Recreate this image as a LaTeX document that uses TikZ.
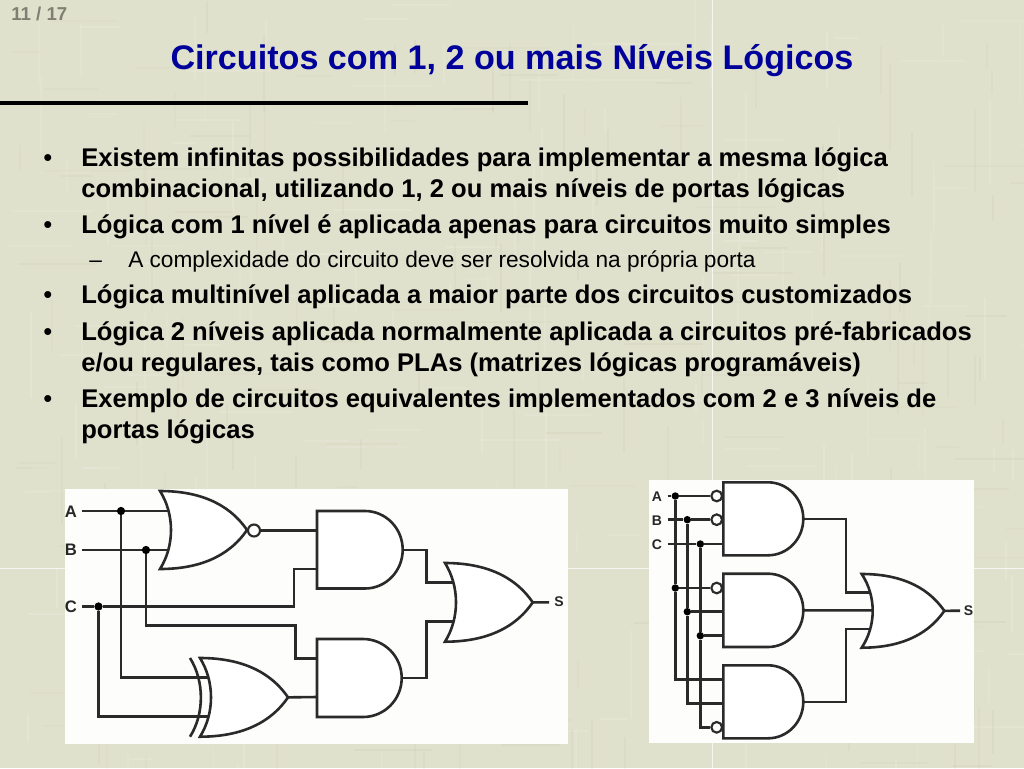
\documentclass[tikz,border=0pt]{standalone}
\usepackage{fontspec}
\setmainfont{Liberation Sans}
\definecolor{bgc}{HTML}{E0E1CD}
\definecolor{titlec}{HTML}{00009A}
\definecolor{wirec}{HTML}{2A2A2A}
\definecolor{pagec}{HTML}{7F7F72}
\definecolor{paper}{HTML}{FDFDFB}
\newcommand{\AndGate}[6]{% name, x, top, bottom, xstraight, xtip
  \pgfmathsetmacro{\gmid}{(#3+#4)/2}
  \pgfmathsetmacro{\gctl}{0.5523*(#6-#5)}
  \pgfmathsetmacro{\gcty}{0.5523*(#4-#3)/2}
  \draw[gateline,fill=white] (#2,#3) -- (#5,#3)
    .. controls ({#5+\gctl},#3) and (#6,{\gmid-\gcty}) .. (#6,\gmid)
    .. controls (#6,{\gmid+\gcty}) and ({#5+\gctl},#4) .. (#5,#4) -- (#2,#4) -- cycle;
  \coordinate (#1tip) at (#6,\gmid);
}
\newcommand{\OrGate}[6]{% name, xleft, top, bottom, xapex, xtip
  \pgfmathsetmacro{\gmid}{(#3+#4)/2}
  \pgfmathsetmacro{\gwid}{#6-#2}
  \pgfmathsetmacro{\gback}{#2+(#5-#2)*4/3}
  \draw[gateline,fill=white] (#2,#3)
    .. controls ({#2+0.42*\gwid},#3) and ({#2+0.78*\gwid},{#3+0.14*(#4-#3)}) .. (#6,\gmid)
    .. controls ({#2+0.78*\gwid},{#4-0.14*(#4-#3)}) and ({#2+0.42*\gwid},#4) .. (#2,#4)
    .. controls (\gback,{#4-0.3*(#4-#3)}) and (\gback,{#3+0.3*(#4-#3)}) .. cycle;
  \coordinate (#1tip) at (#6,\gmid);
}
\tikzset{
  gateline/.style={draw=wirec,line width=1.95pt,line join=miter},
  wire/.style={draw=wirec,line width=1.95pt,line join=miter},
  dotn/.style={circle,fill=black,draw=none,minimum size=6.2pt,inner sep=0pt},
  bubble/.style={circle,draw=wirec,line width=1.6pt,fill=white,minimum size=#1,inner sep=0pt},
  bubble/.default=9pt,
  lbl/.style={font=\bfseries\fontsize{10.5pt}{12pt}\selectfont,text=black!85,inner sep=0pt,anchor=center},
  lblbig/.style={font=\bfseries\fontsize{12.5pt}{14pt}\selectfont,text=black!85,inner sep=0pt,anchor=center},
  bodyb/.style={anchor=base west,inner sep=0pt,font=\bfseries\fontsize{19.2pt}{19.2pt}\selectfont,text=black},
  bullet/.style={anchor=base west,inner sep=0pt,font=\fontsize{19.2pt}{19.2pt}\selectfont,text=black},
  subt/.style={anchor=base west,inner sep=0pt,font=\fontsize{17pt}{17pt}\selectfont,text=black}
}
\begin{document}
\begin{tikzpicture}[x=0.75pt,y=-0.75pt]
\useasboundingbox (0,0) rectangle (1024,768);
\fill[bgc] (0,0) rectangle (1024,768);
% cloth texture
\begin{scope}
\clip (0,0) rectangle (1024,768);
\pgfmathsetseed{4711}
\foreach \i in {1,...,420}{
  \pgfmathsetmacro{\tpx}{random(0,1024)}
  \pgfmathsetmacro{\tpy}{random(0,768)}
  \pgfmathsetmacro{\tlen}{random(20,90)}
  \pgfmathsetmacro{\top}{0.05+0.07*rnd}
  \pgfmathtruncatemacro{\tkind}{random(0,3)}
  \ifcase\tkind
    \draw[white,opacity=\top,line width=1.5pt] (\tpx,\tpy) -- ++(\tlen,0);
  \or
    \draw[white,opacity=\top,line width=1.5pt] (\tpx,\tpy) -- ++(0,\tlen);
  \or
    \draw[black!40!olive,opacity=\top*0.4,line width=1.5pt] (\tpx,\tpy) -- ++(\tlen,0);
  \or
    \draw[black!40!olive,opacity=\top*0.4,line width=1.5pt] (\tpx,\tpy) -- ++(0,\tlen);
  \fi
}
\end{scope}
\draw[white,opacity=0.75,line width=0.75pt] (712,0) -- (712,768);
\draw[white,opacity=0.75,line width=0.75pt] (0,568) -- (1024,568);

% header
\node[anchor=base west,inner sep=0pt,text=pagec,font=\bfseries\fontsize{14pt}{14pt}\selectfont] (page) at (11,20) {11 / 17};
\node[anchor=base,inner sep=0pt,text=titlec,font=\bfseries\fontsize{25.6pt}{25.6pt}\selectfont] (title) at (512,69) {Circuitos com 1, 2 ou mais Níveis Lógicos};
\fill[black] (0,100.5) rectangle (528,104.5);

% bullets
\node[bullet] (b1) at (43,166.7) {•};
\node[bodyb] (t1) at (81,166.7) {Existem infinitas possibilidades para implementar a mesma lógica};
\node[bodyb] (t1b) at (81,197.7) {combinacional, utilizando 1, 2 ou mais níveis de portas lógicas};
\node[bullet] (b2) at (43,233.7) {•};
\node[bodyb] (t2) at (81,233.7) {Lógica com 1 nível é aplicada apenas para circuitos muito simples};
\node[subt] (b3) at (89,267.7) {–};
\node[subt] (t3) at (128,267.7) {A complexidade do circuito deve ser resolvida na própria porta};
\node[bullet] (b4) at (43,303.7) {•};
\node[bodyb] (t4) at (81,303.7) {Lógica multinível aplicada a maior parte dos circuitos customizados};
\node[bullet] (b5) at (43,340.7) {•};
\node[bodyb] (t5) at (81,340.7) {Lógica 2 níveis aplicada normalmente aplicada a circuitos pré-fabricados};
\node[bodyb] (t5b) at (81,371.7) {e/ou regulares, tais como PLAs (matrizes lógicas programáveis)};
\node[bullet] (b6) at (43,407.7) {•};
\node[bodyb] (t6) at (81,407.7) {Exemplo de circuitos equivalentes implementados com 2 e 3 níveis de};
\node[bodyb] (t6b) at (81,438.7) {portas lógicas};

% ---------- left circuit ----------
\fill[paper] (65,489) rectangle (568,744);
\node[lblbig] (lA) at (71,512) {A};
\node[lblbig] (lB) at (71,550) {B};
\node[lblbig] (lC) at (71,607) {C};
\node[lbl] (lS) at (559,602) {S};
\coordinate (sA) at (82,511);
\coordinate (sB) at (82,550);
\coordinate (sC) at (82,606.5);
\node[dotn] (dA) at (121,511) {};
\node[dotn] (dB) at (146,550) {};
\node[dotn] (dC) at (98.5,606.5) {};
% wires under the gates
\draw[wire] (sA) -- (dA) -- (170,511);
\draw[wire] (sB) -- (dB) -- (170,550);
\coordinate (a1i2) at (317,569);
\coordinate (a2i1) at (317,658.7);
\coordinate (a1o) at (317,530.5);
\coordinate (a2i2) at (317,697);
\coordinate (xi1) at (210,677.7);
\coordinate (xi2) at (210,716.7);
\draw[wire] (sC) -- (dC) -- (294,606.5) -- (294,569) -- (a1i2);
\draw[wire] (dB) -- (146,625.7) -- (295.7,625.7) -- (295.7,658.7) -- (a2i1);
\draw[wire] (dA) -- (121,677.7) -- (xi1);
\draw[wire] (dC) -- (98.5,716.7) -- (xi2);
\OrGate{nor}{160}{491}{569}{171}{247}
\OrGate{xor}{200}{658}{736.7}{211}{288}
\draw[gateline] (190,658) .. controls (204.5,681) and (204.5,714) .. (190,736.7);
\node[bubble] (nb) at (254,530.5) {};
\draw[wire] (nb) -- (a1o);
\draw[wire] (xortip) -- (a2i2);
\coordinate (oi1) at (456,582.7);
\coordinate (oi2) at (456,621.7);
\coordinate (so) at (549,602.3);
\draw[wire] (402.7,550) -- (426.7,550) -- (426.7,582.7) -- (oi1);
\draw[wire] (401.7,678) -- (426.7,678) -- (426.7,621.7) -- (oi2);
\AndGate{a1}{317}{511}{588.5}{365}{402.7}
\AndGate{a2}{317}{639}{717}{363}{401.7}
\OrGate{o1}{445}{563}{641.7}{456}{532.7}
\draw[wire] (o1tip) -- (so);

% ---------- right circuit ----------
\fill[paper] (649,480) rectangle (974,743);
\node[lbl] (rA) at (657,497) {A};
\node[lbl] (rB) at (657,521) {B};
\node[lbl] (rC) at (657,545) {C};
\node[lbl] (rS) at (968.5,610.5) {S};
\coordinate (qA) at (667.7,496);
\coordinate (qB) at (667.7,519.7);
\coordinate (qC) at (667.7,544);
\node[dotn,minimum size=5.6pt] (eA1) at (675.3,496) {};
\node[dotn,minimum size=5.6pt] (eB1) at (687.3,519.7) {};
\node[dotn,minimum size=5.6pt] (eC1) at (700.3,544) {};
\node[dotn,minimum size=5.6pt] (eA2) at (675.3,588) {};
\node[dotn,minimum size=5.6pt] (eB2) at (687.3,611.7) {};
\node[dotn,minimum size=5.6pt] (eC2) at (700.3,635.7) {};
\node[bubble=8pt] (n1) at (716.7,496) {};
\node[bubble=8pt] (n2) at (716.7,519.7) {};
\node[bubble=8pt] (n3) at (716.7,588) {};
\node[bubble=8pt] (n4) at (716.7,727.3) {};
\coordinate (p1) at (723.3,544);
\coordinate (p2) at (723.3,611.7);
\coordinate (p3) at (723.3,635.7);
\coordinate (p4) at (723.3,679.7);
\coordinate (p5) at (723.3,703.3);
\draw[wire] (qA) -- (eA1) -- (n1);
\draw[wire] (qB) -- (eB1) -- (n2);
\draw[wire] (qC) -- (eC1) -- (p1);
\draw[wire] (eA1) -- (eA2) -- (675.3,679.7) -- (p4);
\draw[wire] (eB1) -- (eB2) -- (687.3,703.3) -- (p5);
\draw[wire] (eC1) -- (eC2) -- (700.3,727.3) -- (n4);
\draw[wire] (eA2) -- (n3);
\draw[wire] (eB2) -- (p2);
\draw[wire] (eC2) -- (p3);
\coordinate (ri1) at (872,592.3);
\coordinate (ri2) at (875,610.3);
\coordinate (ri3) at (872,629);
\coordinate (rso) at (960,610.7);
\AndGate{c1}{723.3}{482.3}{555.3}{768}{803.3}
\AndGate{c2}{723.3}{573.7}{647}{768}{803.3}
\AndGate{c3}{723.3}{665.3}{738.3}{768}{803.3}
\draw[wire] (c1tip) -- (846,518.8) -- (846,592.3) -- (ri1);
\draw[wire] (c2tip) -- (ri2);
\draw[wire] (c3tip) -- (846,701.8) -- (846,629) -- (ri3);
\OrGate{r1}{861.7}{574}{647.7}{872.7}{944.3}
\draw[wire] (r1tip) -- (rso);
\end{tikzpicture}
\end{document}
